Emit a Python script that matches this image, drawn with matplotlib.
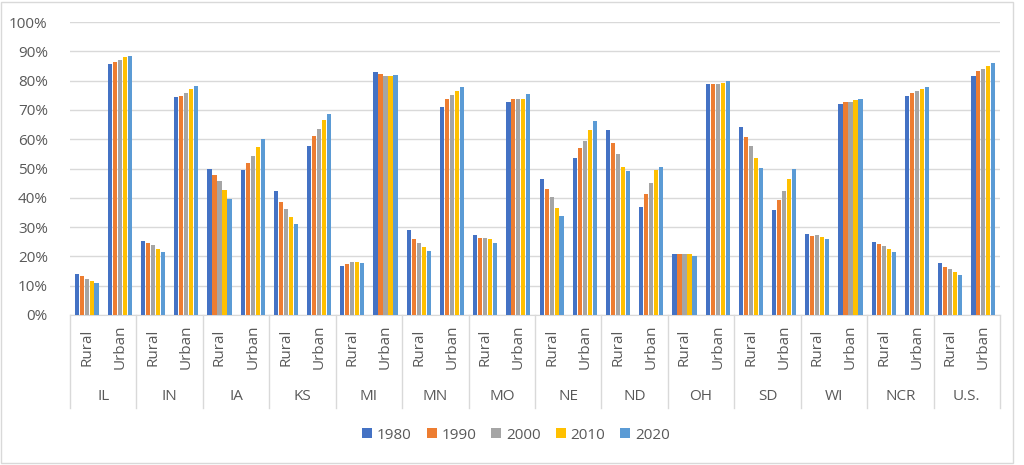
import matplotlib.pyplot as plt
from matplotlib.patches import Rectangle
import numpy as np

plt.rcParams['font.family'] = ['Open Sans', 'DejaVu Sans']

states = ["IL", "IN", "IA", "KS", "MI", "MN", "MO", "NE", "ND", "OH", "SD", "WI", "NCR", "U.S."]
areas = ["Rural", "Urban"]
years = ["1980", "1990", "2000", "2010", "2020"]
colors = ["#4472C4", "#ED7D31", "#A5A5A5", "#FFC000", "#5B9BD5"]

# share of population (%) per state, area and year 1980..2020
rural = {
  "IL": [14.0, 13.3, 12.4, 11.7, 10.9],
  "IN": [25.4, 24.7, 23.9, 22.6, 21.4],
  "IA": [49.8, 47.9, 45.6, 42.6, 39.7],
  "KS": [42.2, 38.7, 36.2, 33.3, 31.1],
  "MI": [16.8, 17.4, 18.0, 18.1, 17.6],
  "MN": [28.9, 25.9, 24.6, 23.3, 21.9],
  "MO": [27.2, 26.3, 26.3, 26.0, 24.5],
  "NE": [46.3, 43.0, 40.3, 36.6, 33.8],
  "ND": [63.1, 58.7, 54.8, 50.6, 49.1],
  "OH": [20.9, 20.8, 20.8, 20.7, 20.0],
  "SD": [64.2, 60.9, 57.7, 53.6, 50.1],
  "WI": [27.5, 27.1, 27.2, 26.5, 25.9],
  "NCR": [24.9, 24.1, 23.4, 22.6, 21.6],
  "U.S.": [17.9, 16.5, 15.8, 14.8, 13.8],
}
urban = {
  "IL": [85.7, 86.5, 87.2, 88.0, 88.5],
  "IN": [74.4, 74.7, 75.7, 77.0, 78.2],
  "IA": [49.6, 51.9, 54.2, 57.3, 60.0],
  "KS": [57.6, 61.1, 63.4, 66.4, 68.5],
  "MI": [82.9, 82.3, 81.7, 81.5, 82.0],
  "MN": [71.0, 73.8, 75.1, 76.6, 77.8],
  "MO": [72.6, 73.6, 73.6, 73.7, 75.3],
  "NE": [53.6, 56.9, 59.5, 63.0, 66.1],
  "ND": [36.8, 41.3, 45.1, 49.4, 50.6],
  "OH": [78.8, 78.8, 78.8, 79.1, 80.0],
  "SD": [35.7, 39.2, 42.3, 46.3, 49.7],
  "WI": [72.1, 72.8, 72.7, 73.5, 73.8],
  "NCR": [74.8, 75.7, 76.5, 77.1, 77.9],
  "U.S.": [81.7, 83.2, 84.0, 84.9, 86.0],
}

fig = plt.figure(figsize=(10.24, 4.65), dpi=100)
ax = fig.add_axes([70/1024, 1-315/465, 930/1024, 293/465])

n = len(states) * 2
step = 0.15
for k, yr in enumerate(years):
  vals = []
  for s in states:
    vals.append(rural[s][k] / 100)
    vals.append(urban[s][k] / 100)
  xs = np.arange(n) + 0.5 + (k - 2) * step
  ax.bar(xs, vals, width=0.125, color=colors[k], label=yr, zorder=3)

fs = 11
ax.set_xlim(0, n)
ax.set_ylim(0, 1)
ax.set_yticks(np.arange(0, 1.01, 0.1))
ax.set_yticklabels([f"{int(round(v*100))}%" for v in np.arange(0, 1.01, 0.1)])
ax.tick_params(axis='y', length=0, pad=16, labelsize=fs, labelcolor="#595959")
ax.set_xticks([])
ax.grid(axis='y', color="#D9D9D9", linewidth=1, zorder=0)
for sp in ["top", "right", "left"]:
  ax.spines[sp].set_visible(False)
ax.spines["bottom"].set_color("#D9D9D9")

tr = ax.get_xaxis_transform()
sep_bottom = -(408 - 315) / 293
for i in range(len(states) + 1):
  ax.plot([2*i, 2*i], [0, sep_bottom], transform=tr, color="#D9D9D9", lw=1, clip_on=False)
for j in range(n):
  ax.text(j + 0.5, -(347 - 315) / 293, areas[j % 2], transform=tr, rotation=90,
          ha="center", va="center", fontsize=fs, color="#595959")
for i, s in enumerate(states):
  ax.text(2*i + 1, -(397 - 315) / 293, s, transform=tr, ha="center", va="center",
          fontsize=fs, color="#595959")

leg = fig.legend(loc="center", bbox_to_anchor=(516/1024, 1-435/465), ncol=5, frameon=False,
                 fontsize=fs, handlelength=0.65, handleheight=0.65, handletextpad=0.3,
                 columnspacing=1.0)
for t in leg.get_texts():
  t.set_color("#595959")

fig.patches.append(Rectangle((1/1024, 2/465), 1012/1024, 461/465, transform=fig.transFigure,
                             fill=False, edgecolor="#D9D9D9", lw=1))

plt.savefig("out.png", dpi=100)
